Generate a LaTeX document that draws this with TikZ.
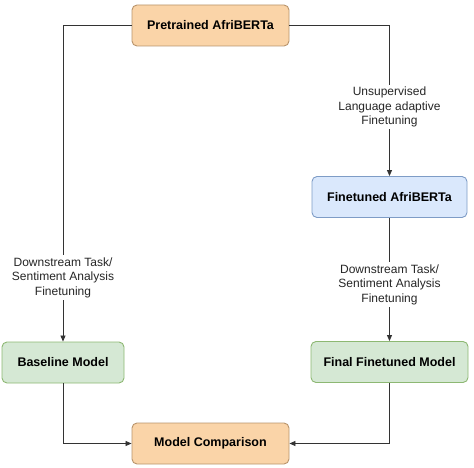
\documentclass[tikz,border=0pt]{standalone}
\usepackage{fontspec}
\setmainfont{Liberation Sans}
\usetikzlibrary{arrows.meta}
\definecolor{orfill}{HTML}{FAD4A8}
\definecolor{ordraw}{HTML}{B8946C}
\definecolor{blfill}{HTML}{DAE8FC}
\definecolor{bldraw}{HTML}{7E9CC6}
\definecolor{grfill}{HTML}{D5E8D4}
\definecolor{grdraw}{HTML}{8DB873}
\definecolor{linec}{HTML}{333333}
\begin{document}
\begin{tikzpicture}[x=1pt,y=-1pt,
  box/.style={rounded corners=5pt, line width=0.9pt, minimum height=41pt, inner sep=0pt,
    font=\fontsize{12.5}{15}\selectfont\bfseries, text=black},
  orbox/.style={box, fill=orfill, draw=ordraw},
  blbox/.style={box, fill=blfill, draw=bldraw},
  grbox/.style={box, fill=grfill, draw=grdraw},
  lbl/.style={fill=white, align=center, inner sep=2pt, text=black!85,
    font=\fontsize{12}{14.5}\selectfont},
  conn/.style={draw=linec, line width=0.8pt},
  arr/.style={conn, -{Triangle[length=6pt,width=5pt]}}
]
\useasboundingbox (0,0) rectangle (474,468);
\node[orbox, minimum width=157pt] (pre) at (210.5,25.5) {Pretrained AfriBERTa};
\node[blbox, minimum width=155pt] (fin) at (389.5,197) {Finetuned AfriBERTa};
\node[grbox, minimum width=122pt] (base) at (63,362.5) {Baseline Model};
\node[grbox, minimum width=157pt] (final) at (389.5,362) {Final Finetuned Model};
\node[orbox, minimum width=157pt] (comp) at (210.5,443.5) {Model Comparison};

\draw[arr] (pre.west) -| (base.north);
\draw[arr] (pre.east) -| (fin.north);
\draw[arr] (fin.south) -- (final.north);
\draw[arr] (base.south) |- (comp.west);
\draw[arr] (final.south) |- (comp.east);

\node[lbl] (l1) at (389.5,107) {Unsupervised\\Language adaptive\\Finetuning};
\node[lbl] (l2) at (63,277.5) {Downstream Task/\\Sentiment Analysis\\Finetuning};
\node[lbl] (l3) at (389.5,284.5) {Downstream Task/\\Sentiment Analysis\\Finetuning};
\end{tikzpicture}
\end{document}
